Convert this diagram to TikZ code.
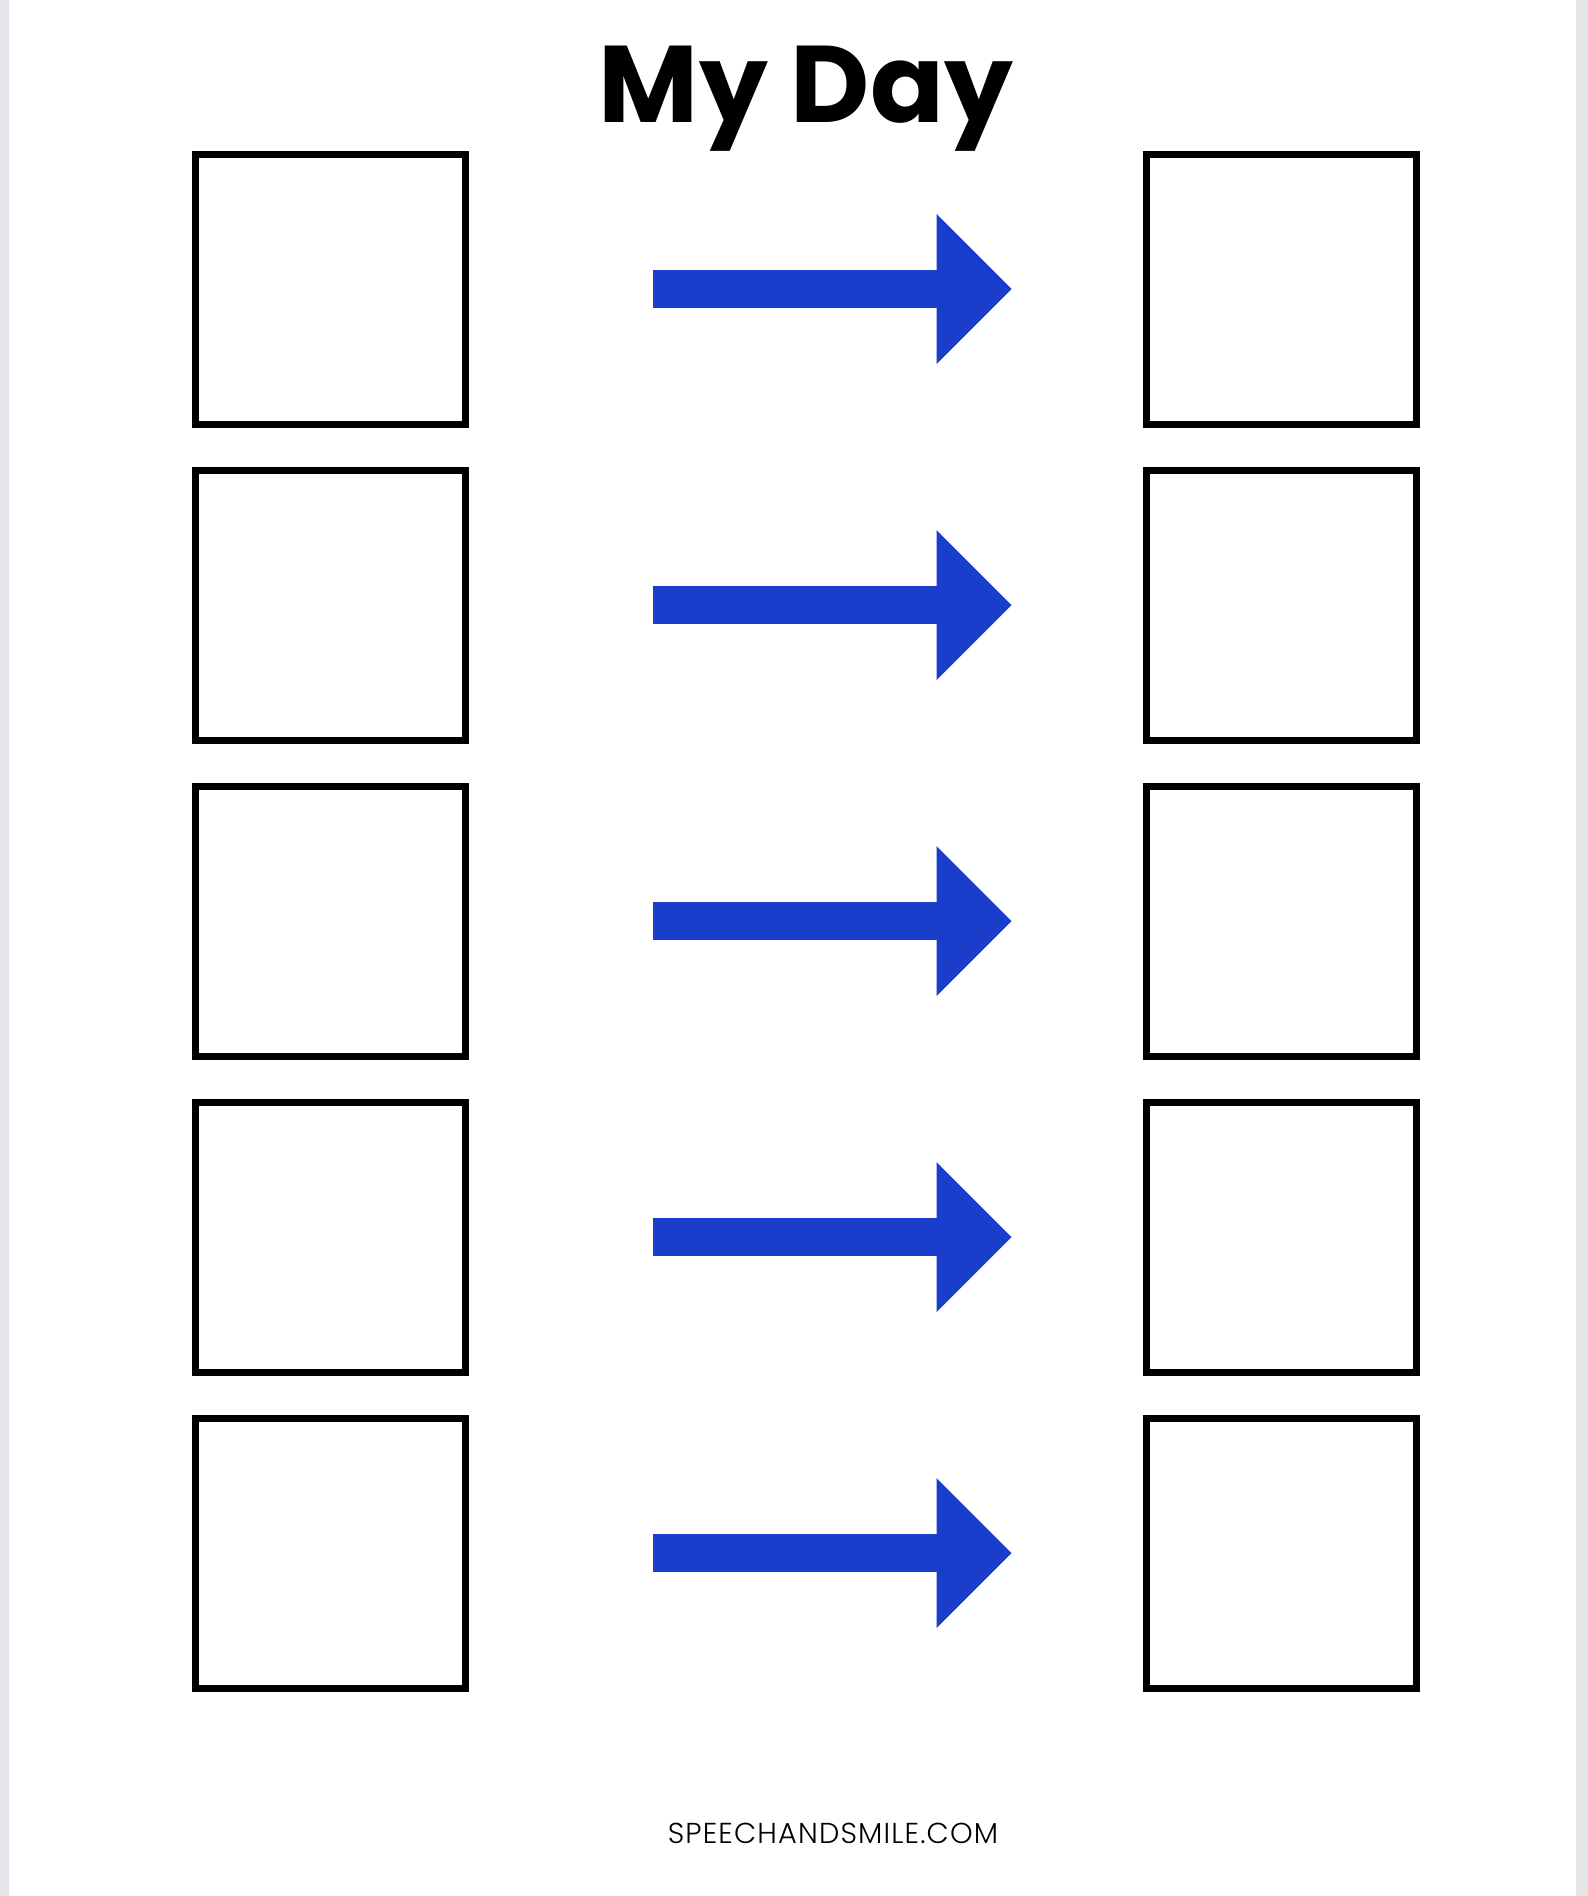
\documentclass[tikz,border=0pt]{standalone}
\usepackage{fontspec}
\usetikzlibrary{arrows.meta,positioning}
\newfontfamily\titlefont{Poppins}
\newfontfamily\sitefont{Poppins}[UprightFont=* Light, LetterSpace=4]
\definecolor{dayblue}{RGB}{27,61,204}
\definecolor{pageedge}{RGB}{228,229,233}

\begin{document}
\begin{tikzpicture}[daybox/.style={draw, line width=0.07cm, minimum size=2.7cm, inner sep=0pt},
  dayarrow/.style={draw=dayblue, line width=0.38cm, -{Triangle[length=0.75cm,width=1.5cm,line width=0pt]}},
  node distance=3.16cm]
\useasboundingbox (0,0) rectangle (15.88,-18.96);
\fill [pageedge] (0,0) rectangle (0.09,-18.96);
\fill [pageedge] (15.76,0) rectangle (15.88,-18.96);
\node [anchor=base, font=\titlefont\bfseries\fontsize{31}{37}\selectfont] (title) at (8.06,-1.22) {My Day};
\node [daybox] (l1) at (3.305,-2.89) {};
\node [daybox, below of=l1] (l2) {};
\node [daybox, below of=l2] (l3) {};
\node [daybox, below of=l3] (l4) {};
\node [daybox, below of=l4] (l5) {};
\node [daybox] (r1) at (12.815,-2.89) {};
\node [daybox, below of=r1] (r2) {};
\node [daybox, below of=r2] (r3) {};
\node [daybox, below of=r3] (r4) {};
\node [daybox, below of=r4] (r5) {};
\foreach \i in {1,...,5}
  \draw [dayarrow] ([xshift=1.835cm]l\i.east) -- ([xshift=-1.315cm]r\i.west);
\node [anchor=base, font=\sitefont\fontsize{8.2}{10}\selectfont] (site) at (8.33,-18.43) {SPEECHANDSMILE.COM};
\end{tikzpicture}
\end{document}
